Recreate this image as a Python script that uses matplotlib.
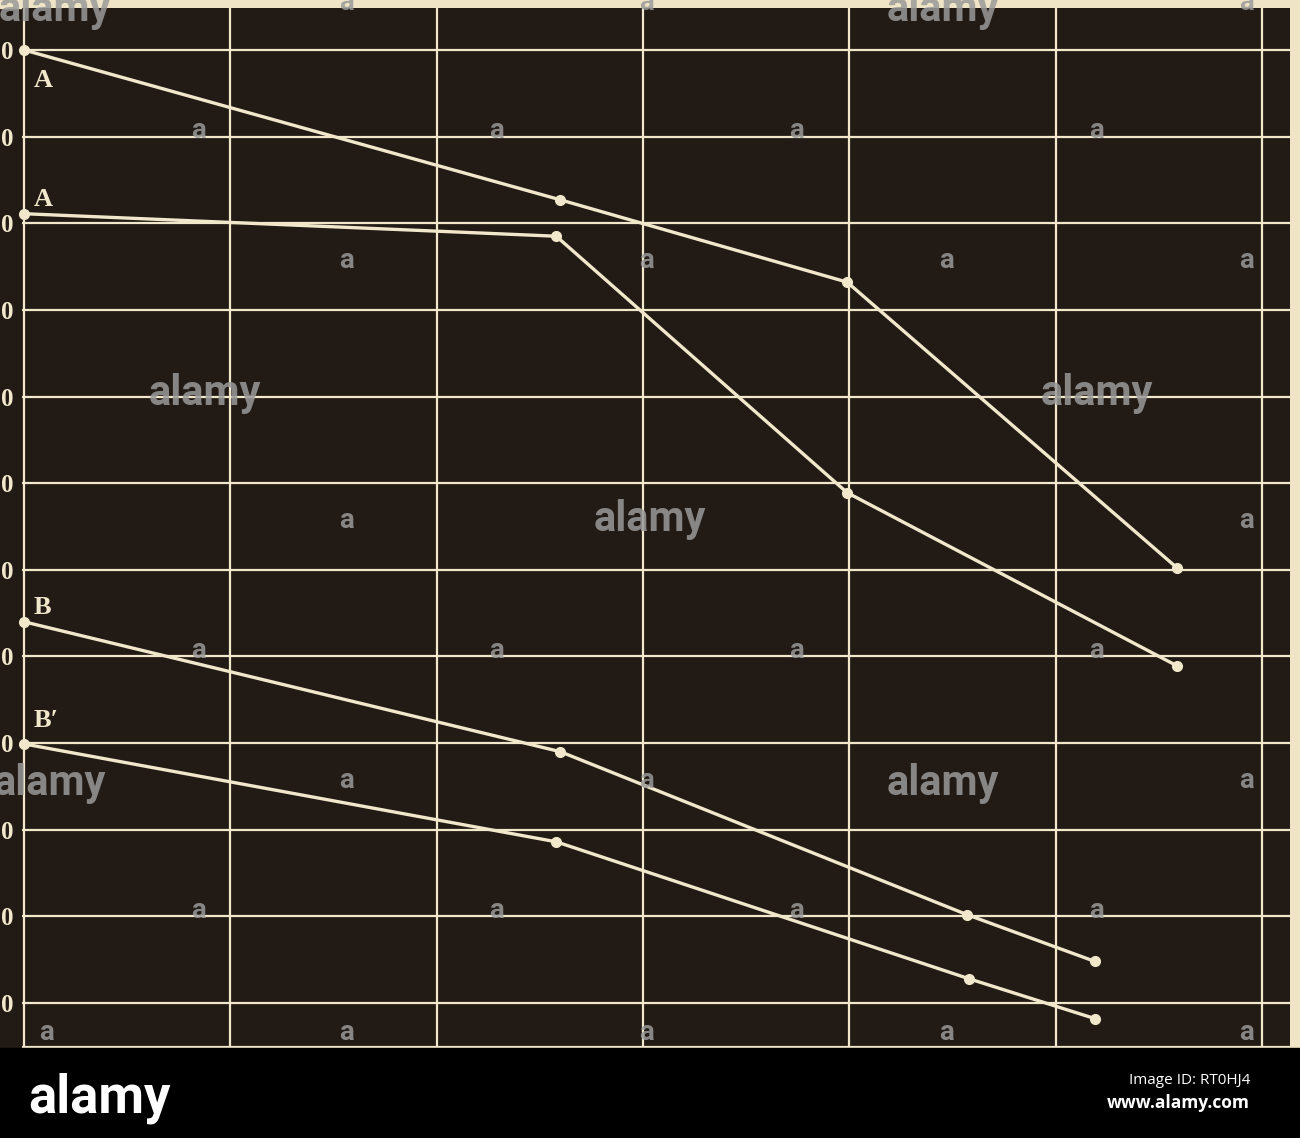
import matplotlib.pyplot as plt
from matplotlib.patches import Rectangle

# Curves in grid units (x: vertical rules, y: horizontal rules from the bottom)
a_x = [0.0, 2.60, 3.99, 5.59]
a_y = [11.0, 9.27, 8.32, 5.02]
a2_x = [0.0, 2.58, 3.99, 5.59]
a2_y = [9.11, 8.85, 5.89, 3.89]
b_x = [0.0, 2.60, 4.57, 5.19]
b_y = [4.40, 2.90, 1.02, 0.48]
b2_x = [0.0, 2.58, 4.58, 5.19]
b2_y = [2.99, 1.86, 0.28, -0.18]
curve_labels = ["A", "A", "B", "B\u2032"]
x_rules = [0, 1, 2, 3, 4, 5, 6]
y_rules = list(range(12))
y_ticklabels = ["0"] * 12

BG = "#221b15"
INK = "#f1e8cc"
CREAM = "#efe4c6"


def main():
    W, H = 1300, 1138
    fig = plt.figure(figsize=(W / 100, H / 100), dpi=100)
    fig.patch.set_facecolor(BG)

    ax = fig.add_axes([22 / W, 90 / H, (1290 - 22) / W, (1130 - 90) / H])
    ax.set_facecolor(BG)
    ax.set_xlim(-2 / 206.3, (1290 - 24) / 206.3)
    ax.set_ylim(-0.52, (1003 - 8) / 86.64)

    for xv in x_rules:
        ax.axvline(xv, color=INK, lw=1.6, zorder=1)
    for yv in y_rules:
        ax.axhline(yv, color=INK, lw=1.6, zorder=1)
    ax.axhline(-0.51, color=INK, lw=1.6, zorder=1)

    for xs, ys in [(a_x, a_y), (a2_x, a2_y), (b_x, b_y), (b2_x, b2_y)]:
        ax.plot(xs, ys, "-", color=INK, lw=2.4, zorder=3, clip_on=False)
        ax.plot(xs, ys, "o", color=INK, ms=7, zorder=4, clip_on=False)

    # label offsets (grid units) from each curve's first point
    label_dy = [-0.35, 0.16, 0.16, 0.27]
    ys0 = [a_y[0], a2_y[0], b_y[0], b2_y[0]]
    for lab, y0, dy in zip(curve_labels, ys0, label_dy):
        ax.text(0.045, y0 + dy, lab, color=INK, fontsize=19, fontweight="bold",
                family="Liberation Serif", va="center", ha="left", zorder=5)

    ax.set_xticks(x_rules)
    ax.set_xticklabels([])
    ax.set_yticks(y_rules)
    ax.set_yticklabels(y_ticklabels, color=INK, fontsize=18, fontweight="bold",
                       family="Liberation Serif")
    ax.tick_params(length=0, pad=6)
    for sp in ax.spines.values():
        sp.set_visible(False)

    # paper edges
    fig.add_artist(Rectangle((0, 1 - 8 / H), 1, 8 / H, transform=fig.transFigure,
                             color=CREAM, zorder=0))
    fig.add_artist(Rectangle((1290 / W, 90 / H), 10 / W, 1, transform=fig.transFigure,
                             color=CREAM, zorder=0))
    fig.add_artist(Rectangle((0, 0), 1, 90 / H, transform=fig.transFigure,
                             color="black", zorder=10))

    # watermark overlay
    wm = dict(color="#9a9a9a", alpha=0.85, fontweight="bold", family="Roboto",
              ha="center", va="center", zorder=20)
    big = [(205, 393), (650, 520), (1097, 393), (50, 783), (943, 783),
           (55, 10), (943, 10)]
    for px, py in big:
        fig.text(px / W, 1 - py / H, "alamy", fontsize=30, **wm)
    small = [(198, 130), (497, 130), (797, 130), (1097, 130),
             (347, 260), (647, 260), (947, 260), (1247, 260),
             (347, 520), (1247, 520),
             (198, 650), (497, 650), (797, 650), (1097, 650),
             (347, 780), (647, 780), (1247, 780),
             (198, 910), (497, 910), (797, 910), (1097, 910),
             (47, 1032), (347, 1032), (647, 1032), (947, 1032), (1247, 1032),
             (347, 3), (647, 3), (1247, 3)]
    for px, py in small:
        fig.text(px / W, 1 - py / H, "a", fontsize=20, **wm)

    fig.text(100 / W, 1 - 1098 / H, "alamy", color="white", fontsize=38,
             fontweight="bold", family="Roboto", ha="center", va="center", zorder=21)
    fig.text(1250 / W, 1 - 1080 / H, "Image ID: RT0HJ4", color="white", fontsize=11,
             family="Open Sans", ha="right", va="center", zorder=21)
    fig.text(1250 / W, 1 - 1103 / H, "www.alamy.com", color="white", fontsize=12.5,
             fontweight="bold", family="Open Sans", ha="right", va="center", zorder=21)

    fig.savefig("out.png", dpi=100, facecolor=fig.get_facecolor())
    plt.close(fig)


if __name__ == "__main__":
    main()
